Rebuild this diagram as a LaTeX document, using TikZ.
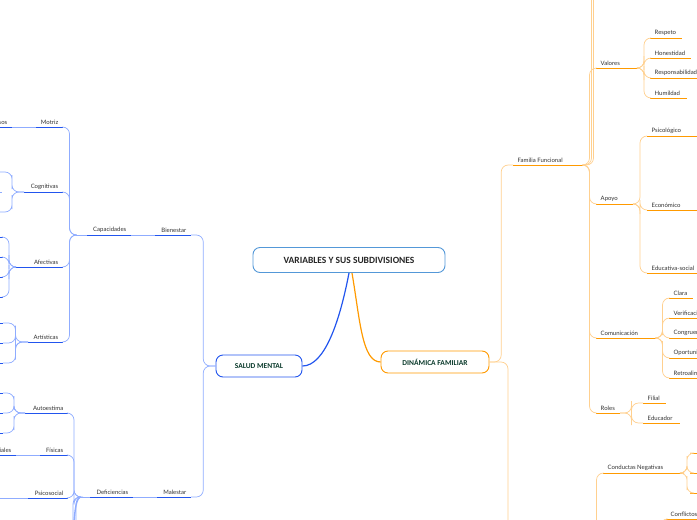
\documentclass[tikz,border=0pt]{standalone}
\usepackage{fontspec}
\setmainfont{Carlito}
\newfontfamily\lblfont{Lato}
\usetikzlibrary{calc}
\definecolor{bD}{HTML}{2255EE}
\definecolor{bL}{HTML}{8FACFF}
\definecolor{oD}{HTML}{FF9A00}
\definecolor{oL}{HTML}{FFD08F}
\definecolor{txt}{HTML}{333333}
\definecolor{grn}{HTML}{0B3B2C}
\tikzset{
  lbl/.style={inner sep=0.5pt,font=\lblfont\fontsize{6}{7}\selectfont,text=txt},
  ulB/.style={draw=bD,line width=1pt},
  ulO/.style={draw=oD,line width=1pt},
  cB/.style={draw=bL,line width=0.7pt,rounded corners=7pt},
  cO/.style={draw=oL,line width=0.7pt,rounded corners=7pt},
  mainbox/.style={draw,rounded corners=7pt,line width=0.9pt,fill=white,font=\bfseries\fontsize{7.5}{9}\selectfont,text=grn,inner sep=0pt}
}
\newcommand\leafR[6]{\coordinate (#1-L) at (#2,#4);\coordinate (#1-R) at (#3,#4);
  \draw[#6] (#1-L)--(#1-R);
  \node[lbl,anchor=south west] (#1) at ([xshift=4pt,yshift=2pt]#1-L) {#5};}
\newcommand\leafL[6]{\coordinate (#1-L) at (#2,#4);\coordinate (#1-R) at (#3,#4);
  \draw[#6] (#1-L)--(#1-R);
  \node[lbl,anchor=south east] (#1) at ([xshift=-4pt,yshift=2pt]#1-R) {#5};}
\newcommand\cn[3]{\draw[#1] (#2) -| ($(#2)!0.5!(#3)$) |- (#3);}
\begin{document}
\begin{tikzpicture}[x=1pt,y=-1pt]
\useasboundingbox (0,0) rectangle (697,520);
\clip (0,0) rectangle (697,520);
% main nodes
\node[mainbox,draw=cyan!60!blue!70,minimum width=192pt,minimum height=25pt,text=black!85,font=\bfseries\fontsize{9.5}{11}\selectfont] (root) at (349,260) {VARIABLES Y SUS SUBDIVISIONES};
\node[mainbox,draw=bD,minimum width=86pt,minimum height=22pt] (salud) at (259,366) {SALUD MENTAL};
\node[mainbox,draw=oD,minimum width=108pt,minimum height=22pt] (dina) at (435,362) {DINÁMICA FAMILIAR};
\draw[bD,line width=1.2pt] (root.south) .. controls (340,320) and (325,366) .. (salud.east);
\draw[oD,line width=1.2pt] ([xshift=3pt]root.south) .. controls (360,320) and (362,362) .. (dina.west);
% ---- left side
\leafL{bien}{155}{191}{235}{Bienestar}{ulB}
\leafL{mal}{157}{191}{497}{Malestar}{ulB}
\cn{cB}{salud.west}{bien-R}
\cn{cB}{salud.west}{mal-R}
\leafL{cap}{87}{131}{235}{Capacidades}{ulB}
\draw[bL,line width=0.7pt] (cap-R)--(bien-L) (cap-L)--(76,235);
\coordinate (capJ) at (76,235);
\leafL{mot}{36}{63}{127}{Motriz}{ulB}
\leafL{cog}{24}{63}{192}{Cognitivas}{ulB}
\leafL{afe}{15}{63}{267}{Afectivas}{ulB}
\leafL{art}{28}{63}{342}{Artísticas}{ulB}
\foreach \n in {mot,cog,afe,art} {\cn{cB}{capJ}{\n-R}}
\leafL{motc}{-40}{12}{127}{Gruesos}{ulB}
\draw[bL,line width=0.7pt] (motc-R)--(mot-L);
\leafL{cog1}{-30}{0}{172}{}{ulB}
\leafL{cog2}{-30}{0}{212}{}{ulB}
\leafL{cog3}{-30}{2}{192}{}{draw=bL,line width=0.7pt}
\cn{cB}{cog-L}{cog1-R}\cn{cB}{cog-L}{cog2-R}
\foreach \i/\y in {1/237,2/257,3/277,4/297} {\leafL{afe\i}{-30}{3}{\y}{}{ulB}\cn{cB}{afe-L}{afe\i-R}}
\foreach \i/\y in {1/323,2/343,3/363} {\leafL{art\i}{-30}{3}{\y}{}{ulB}\cn{cB}{art-L}{art\i-R}}
\leafL{def}{90}{133}{497}{Deficiencias}{ulB}
\draw[bL,line width=0.7pt] (def-R)--(mal-L) (def-L)--(80,497);
\coordinate (defJ) at (80,497);
\leafL{aut}{25}{68}{413}{Autoestima}{ulB}
\leafL{fis}{40}{68}{455}{Físicas}{ulB}
\leafL{psi}{28}{68}{498}{Psicosocial}{ulB}
\foreach \n in {aut,fis,psi} {\cn{cB}{defJ}{\n-R}}
\foreach \i/\y in {1/393,2/413,3/433} {\leafL{aut\i}{-30}{3}{\y}{}{ulB}\cn{cB}{aut-L}{aut\i-R}}
\leafL{fisc}{-40}{16}{455}{Sensoriales}{ulB}
\draw[bL,line width=0.7pt] (fisc-R)--(fis-L);
\draw[bL,line width=0.7pt] (-10,498)--(psi-L);
\coordinate (defd1) at (66,560);\coordinate (defd2) at (72,600);
\cn{cB}{defJ}{defd1}\cn{cB}{defJ}{defd2}
\draw[bL,line width=1.4pt] (defJ) .. controls (76,500) and (75,510) .. (74,522);
% ---- right side
\leafR{fam}{513}{583}{165}{Familia Funcional}{ulO}
\cn{cO}{dina.east}{fam-L}
\coordinate (dinad) at (520,560);
\draw[oL,line width=0.7pt,rounded corners=7pt] (dina.east) -| (508,560);
\coordinate (famU1) at (600,-40);\coordinate (famU2) at (604,-80);
\cn{cO}{fam-R}{famU1}\cn{cO}{fam-R}{famU2}
\leafR{val}{596}{638}{68}{Valores}{ulO}
\leafR{apo}{596}{633}{204}{Apoyo}{ulO}
\leafR{com}{596}{656}{338}{Comunicación}{ulO}
\leafR{rol}{596}{620}{413}{Roles}{ulO}
\foreach \n in {val,apo,com,rol} {\cn{cO}{fam-R}{\n-L}}
\leafR{res}{650}{682}{38}{Respeto}{ulO}
\leafR{hon}{650}{691}{58}{Honestidad}{ulO}
\leafR{rsp}{650}{710}{78}{Responsabilidad}{ulO}
\leafR{hum}{650}{687}{98}{Humildad}{ulO}
\foreach \n in {res,hon,rsp,hum} {\cn{cO}{val-R}{\n-L}}
\leafR{psc}{647}{720}{136}{Psicológico}{ulO}
\leafR{eco}{647}{720}{210}{Económico}{ulO}
\leafR{edu}{647}{720}{273}{Educativa-social}{ulO}
\foreach \n in {psc,eco,edu} {\cn{cO}{apo-R}{\n-L}}
\leafR{cla}{669}{693}{298}{Clara}{ulO}
\leafR{ver}{669}{720}{318}{Verificación}{ulO}
\leafR{con}{669}{720}{338}{Congruencia}{ulO}
\leafR{opo}{669}{720}{358}{Oportunidad}{ulO}
\leafR{ret}{669}{720}{378}{Retroalimentación}{ulO}
\foreach \n in {cla,ver,con,opo,ret} {\cn{cO}{com-R}{\n-L}}
\leafR{fil}{643}{666}{403}{Filial}{ulO}
\leafR{edc}{643}{680}{423}{Educador}{ulO}
\foreach \n in {fil,edc} {\cn{cO}{rol-R}{\n-L}}
\leafR{neg}{603}{684}{473}{Conductas Negativas}{ulO}
\coordinate (negP) at (590,560);
\cn{cO}{negP}{neg-L}
\foreach \i/\y in {1/453,2/473,3/493} {\leafR{neg\i}{690}{730}{\y}{}{ulO}\cn{cO}{neg-R}{neg\i-L}}
\leafR{cfl}{666}{720}{519}{Conflictos}{ulO}
\coordinate (cflP) at (655,570);
\cn{cO}{cflP}{cfl-L}
\coordinate (tr1) at (680,-30);\coordinate (tr2) at (720,12);
\cn{cO}{tr1}{tr2}
\end{tikzpicture}
\end{document}
